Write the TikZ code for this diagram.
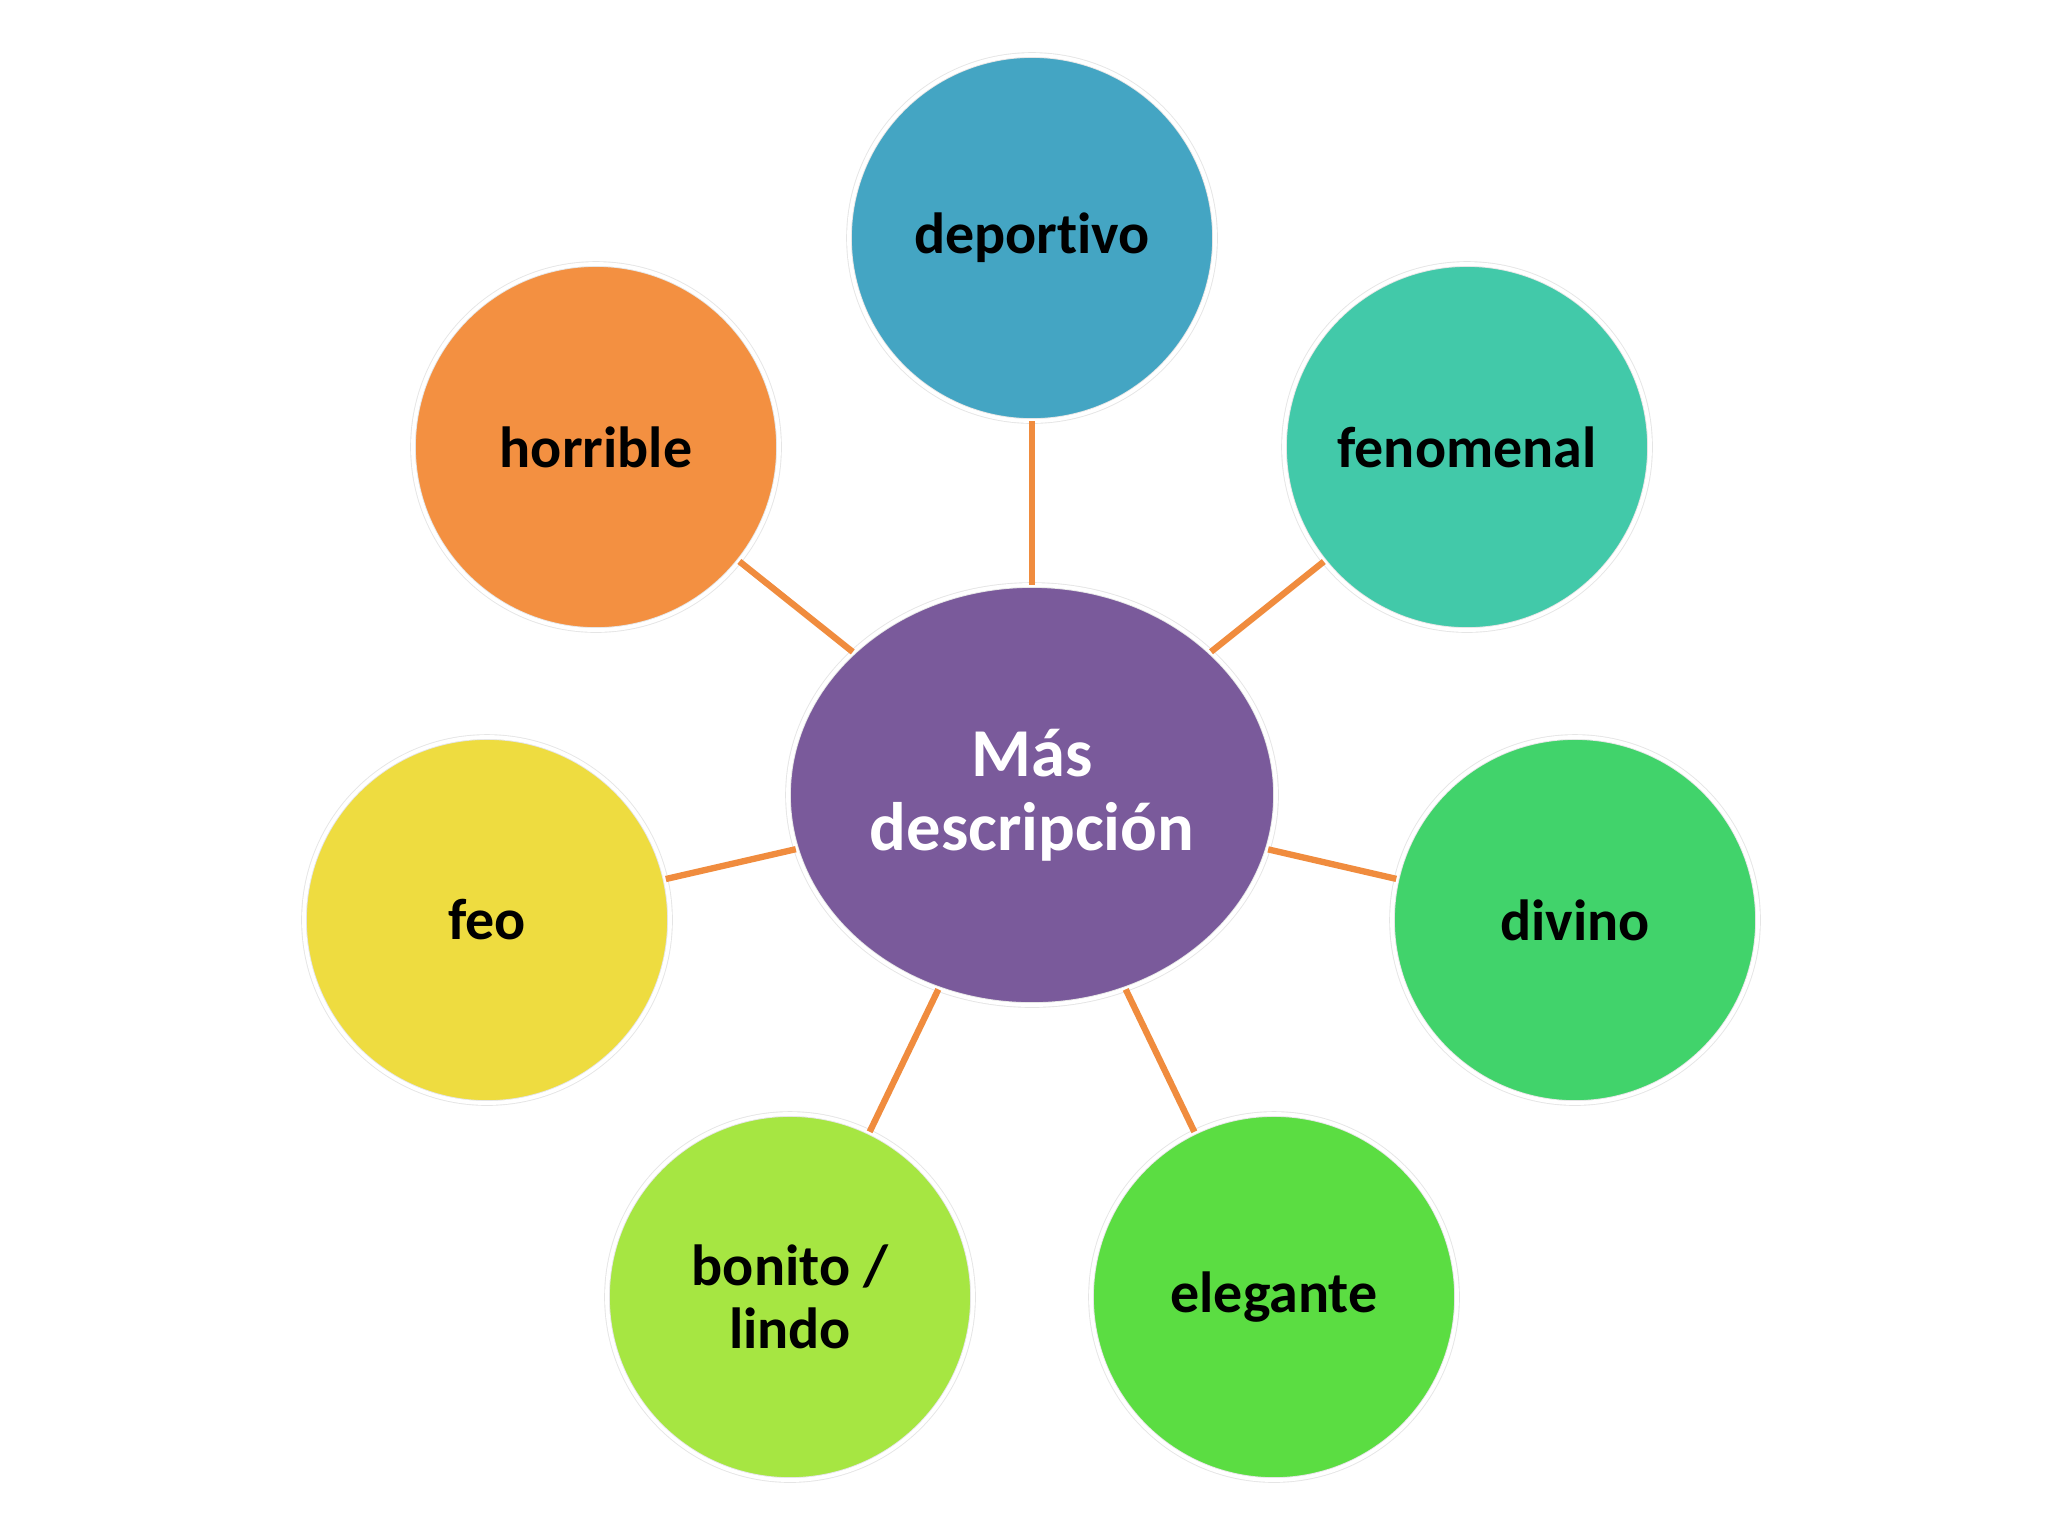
\documentclass[tikz,border=0pt]{standalone}
\usepackage{fontspec}
\setmainfont{Carlito}[Ligatures={NoCommon}]
\usetikzlibrary{shapes.geometric}
\definecolor{cdep}{HTML}{44A5C3}
\definecolor{chor}{HTML}{F39041}
\definecolor{cfen}{HTML}{42C9A9}
\definecolor{cfeo}{HTML}{EEDC40}
\definecolor{cdiv}{HTML}{41D36B}
\definecolor{cbon}{HTML}{A6E642}
\definecolor{cele}{HTML}{5BDD42}
\definecolor{cmid}{HTML}{7A5A9B}
\definecolor{clink}{HTML}{F08C3E}
\tikzset{
  ring/.style={draw=black!10, double=white, double distance=1.1pt, line width=0.25pt},
  leaf/.style={circle, ring, minimum size=36.6mm, inner sep=0pt, align=center,
    font=\fontsize{16.5}{18}\selectfont\bfseries, text=black},
  hub/.style={ellipse, ring, fill=cmid, minimum width=48.8mm, minimum height=42mm,
    inner sep=0pt, align=center, text=white, font=\fontsize{19.5}{21}\selectfont\bfseries},
  link/.style={draw=clink, line width=1.8pt}
}
\begin{document}
\begin{tikzpicture}[x=0.1mm,y=-0.1mm]
\useasboundingbox (0,0) rectangle (2048,1536);
\fill[white] (0,0) rectangle (2048,1536);
\node[hub] (mid) at (1032,795) {Más\\descripción};
\node[leaf, fill=cdep] (dep) at (1032,238) {deportivo};
\node[leaf, fill=chor] (hor) at (596,447) {horrible};
\node[leaf, fill=cfen] (fen) at (1467,447) {fenomenal};
\node[leaf, fill=cfeo] (feo) at (487,920) {feo};
\node[leaf, fill=cdiv] (div) at (1575,920) {divino};
\node[leaf, fill=cbon] (bon) at (790,1297) {bonito /\\lindo};
\node[leaf, fill=cele] (ele) at (1274,1297) {elegante};
\foreach \n in {dep,hor,fen,feo,div,bon,ele}
  \draw[link] (mid) -- (\n);
\end{tikzpicture}
\end{document}
